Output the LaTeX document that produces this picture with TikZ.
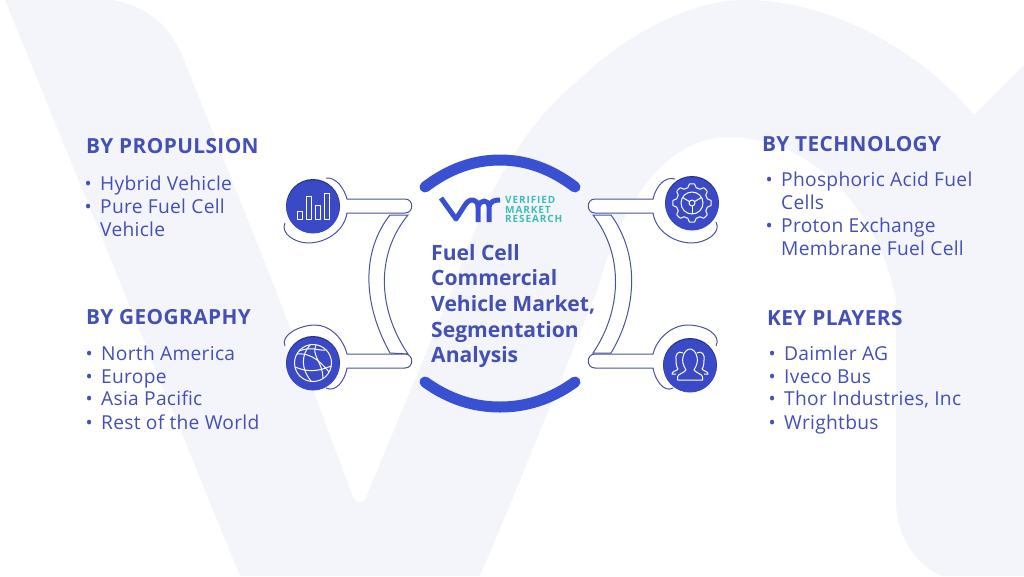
\documentclass[tikz,border=0pt]{standalone}
\usepackage{fontspec}
\setmainfont{Open Sans}
\usetikzlibrary{positioning}
\definecolor{paleblue}{HTML}{F4F5FB}
\definecolor{inkblue}{HTML}{4350B4}
\definecolor{arcblue}{HTML}{3A50D2}
\definecolor{discblue}{HTML}{3A49C6}
\definecolor{discdark}{HTML}{27328C}
\definecolor{lineblue}{HTML}{49549E}
\definecolor{tealmark}{HTML}{3DBDB5}
\newcommand{\dotmark}{\llap{\fontsize{19}{19}\selectfont •\hspace{8.5pt}}}
\tikzset{
  heading/.style={anchor=base west, inner sep=0pt, text=inkblue, font=\fontsize{20.8}{24}\selectfont\bfseries\addfontfeatures{LetterSpace=2}},
  entry/.style={anchor=base west, inner sep=0pt, text=inkblue, font=\fontsize{19.2}{23}\selectfont\addfontfeatures{LetterSpace=1.5}},
  bulleted/.style={entry, execute at begin node=\dotmark},
  titleline/.style={anchor=base west, inner sep=0pt, text=inkblue, font=\fontsize{21.1}{25}\selectfont\bfseries},
  markline/.style={anchor=base west, inner sep=0pt, text=tealmark, font=\fontsize{10}{10}\selectfont\bfseries\addfontfeatures{LetterSpace=9}},
  outline/.style={draw=lineblue, line width=1pt, fill=white},
  bigarc/.style={draw=arcblue, line width=11pt, line cap=round},
  iconline/.style={draw=white, line width=1pt, line join=round},
}
\begin{document}
\begin{tikzpicture}[x=1pt, y=-1pt]
  \useasboundingbox (0,0) rectangle (1024,576);
  \fill[white] (0,0) rectangle (1024,576);

  % Pale letters behind everything
  \fill[paleblue] (5,0) -- (113,0) .. controls (150,8) and (168,25) .. (182,55)
    -- (275,288) -- (353,497) .. controls (357,505) and (364,505) .. (367,495)
    -- (453,288) .. controls (475,225) and (510,135) .. (579,80)
    .. controls (625,35) and (690,0) .. (745,0)
    .. controls (830,0) and (920,50) .. (974,115) -- (1024,65) -- (1024,576) -- (942,576)
    .. controls (915,565) and (896,535) .. (896,500) -- (896,300)
    .. controls (880,215) and (815,137) .. (729,137)
    .. controls (665,137) and (620,205) .. (598,288)
    -- (512,500) -- (480,576) -- (240,576) -- cycle;

  % Connectors
  \draw[outline] (390,215) .. controls (366,245) and (358,295) .. (390,353)
    -- (408,354) .. controls (378,310) and (375,255) .. (408,215) -- cycle;
  \draw[outline] (611,215) .. controls (640,255) and (637,310) .. (611,353)
    -- (593,353) .. controls (622,310) and (624,255) .. (593,215) -- cycle;

  \draw[outline] (326,178) .. controls (336,177) and (344,188) .. (347,199) -- (405,199)
    .. controls (414,199) and (414,213) .. (405,213) -- (347,213)
    .. controls (344,232) and (325,243) .. (308,243) .. controls (295,243) and (280,233) .. (285,223);
  \draw[outline] (285,346) .. controls (280,335) and (300,325) .. (315,325)
    .. controls (330,325) and (343,338) .. (347,354) -- (405,354)
    .. controls (414,354) and (414,368) .. (405,368) -- (347,368)
    .. controls (345,380) and (336,393) .. (326,388);
  \draw[outline] (675,179) .. controls (665,176) and (656,186) .. (653,199) -- (595,199)
    .. controls (586,199) and (586,213) .. (595,213) -- (653,213)
    .. controls (656,232) and (675,243) .. (692,243) .. controls (705,243) and (722,233) .. (716,222);
  \draw[outline] (716,346) .. controls (722,335) and (705,325) .. (688,325)
    .. controls (672,325) and (657,338) .. (653,354) -- (595,354)
    .. controls (586,354) and (586,368) .. (595,368) -- (653,368)
    .. controls (655,380) and (664,393) .. (673,388);

  % Discs
  \foreach \x/\y/\name in {313/206/discbars, 313/363/discglobe, 692/203/discgear, 690/365/discpeople} {
    \fill[discdark] (\x,\y) circle (27);
    \fill[discblue] (\x,\y+0.9) circle (26.6);
    \coordinate (\name) at (\x,\y);
  }

  % Bars icon
  \draw[iconline] (297,211) rectangle (302,219);
  \draw[iconline] (306,196) rectangle (311,219);
  \draw[iconline] (315,205) rectangle (320,219);
  \draw[iconline] (324,193) rectangle (329,219);

  % Globe icon
  \begin{scope}[shift={(discglobe)}]
    \draw[iconline] (0,0) circle (18.5);
    \draw[iconline] (-16,-9) .. controls (-6,-10) and (4,-6) .. (16,9);
    \draw[iconline] (-18,4) .. controls (-8,8) and (2,10) .. (18,3);
    \draw[iconline] (-3,-18) .. controls (-12,-8) and (-12,6) .. (-2,18);
    \draw[iconline] (3,-18) .. controls (-2,-8) and (10,0) .. (10,15);
    \draw[iconline] (-14,-12) .. controls (-2,-17) and (6,-12) .. (12,-13);
  \end{scope}

  % Gear icon
  \begin{scope}[shift={(discgear)}]
    \draw[iconline] plot[domain=0:360, samples=289] ({(17.5+max(min(3.2*cos(8*\x),1.7),-1.7))*cos(\x)}, {(17.5+max(min(3.2*cos(8*\x),1.7),-1.7))*sin(\x)}) -- cycle;
    \draw[iconline] (0,0) circle (11);
    \draw[iconline] (0,0) circle (3);
    \foreach \a in {90,210,330}
      \draw[iconline] (\a:3) -- (\a:11);
  \end{scope}

  % People icon
  \begin{scope}[shift={(discpeople)}]
    \draw[iconline] (-12.5,15) -- (-12.5,12) .. controls (-12.5,9) and (-6,8) .. (-4,5)
      .. controls (-7,0) and (-8,-4) .. (-7,-8) .. controls (-6,-14) and (-2,-16) .. (0,-16)
      .. controls (2,-16) and (6,-14) .. (7,-8) .. controls (8,-4) and (7,0) .. (4,5)
      .. controls (6,8) and (12.5,9) .. (12.5,12) -- (12.5,15) -- cycle;
    \draw[iconline] (-7,-12) .. controls (-12,-15) and (-15,-10) .. (-14,-5) .. controls (-14,0) and (-13,3) .. (-12,4)
      .. controls (-13,6) and (-18,6) .. (-18,9) -- (-14,9);
    \draw[iconline] (7,-12) .. controls (12,-15) and (15,-10) .. (14,-5) .. controls (14,0) and (13,3) .. (12,4)
      .. controls (13,6) and (18,6) .. (18,9) -- (14,9);
  \end{scope}

  % Top and bottom arcs
  \draw[bigarc] (425,187) .. controls (450,168) and (475,160) .. (500,160) .. controls (525,160) and (550,168) .. (575,187);
  \draw[bigarc] (425,382) .. controls (450,400) and (475,407) .. (500,407) .. controls (525,407) and (550,400) .. (575,382);

  % Logo
  \draw[arcblue, line width=5pt, line join=round] (441,198) -- (456,219) -- (465,205)
    .. controls (469,198) and (478,198) .. (478,207) -- (478,222)
    (478,207) .. controls (480,199) and (489,199) .. (489,207) -- (489,222)
    (489,207) .. controls (490,201) and (495,200) .. (500,200);
  \node[markline] (markone) at (505,203) {VERIFIED};
  \node[markline] (marktwo) at (505,213) {MARKET};
  \node[markline] (markthree) at (505,222) {RESEARCH};

  % Centre title
  \node[titleline] (titleone) at (431,260) {Fuel Cell};
  \node[titleline] (titletwo) at (431,285) {Commercial};
  \node[titleline] (titlethree) at (431,311) {Vehicle Market,};
  \node[titleline] (titlefour) at (431,337) {Segmentation};
  \node[titleline] (titlefive) at (431,362) {Analysis};

  % Left lists
  \node[heading] (propulsion) at (86,153) {BY PROPULSION};
  \node[bulleted] (hybrid) at (100,190) {Hybrid Vehicle};
  \node[bulleted] (pure) at (100,213) {Pure Fuel Cell};
  \node[entry] (purerest) at (100,236) {Vehicle};

  \node[heading] (geography) at (86,324) {BY GEOGRAPHY};
  \node[bulleted] (north) at (101,360) {North America};
  \node[bulleted] (europe) at (101,383) {Europe};
  \node[bulleted] (asia) at (101,405) {Asia Pacific};
  \node[bulleted] (rest) at (101,429) {Rest of the World};

  % Right lists
  \node[heading] (technology) at (762,151) {BY TECHNOLOGY};
  \node[bulleted] (phosphoric) at (781,186) {Phosphoric Acid Fuel};
  \node[entry] (cells) at (781,209) {Cells};
  \node[bulleted] (proton) at (781,232) {Proton Exchange};
  \node[entry] (membrane) at (781,255) {Membrane Fuel Cell};

  \node[heading] (players) at (767,325) {KEY PLAYERS};
  \node[bulleted] (daimler) at (784,360) {Daimler AG};
  \node[bulleted] (iveco) at (784,383) {Iveco Bus};
  \node[bulleted] (thor) at (784,405) {Thor Industries, Inc};
  \node[bulleted] (wright) at (784,429) {Wrightbus};
\end{tikzpicture}
\end{document}
